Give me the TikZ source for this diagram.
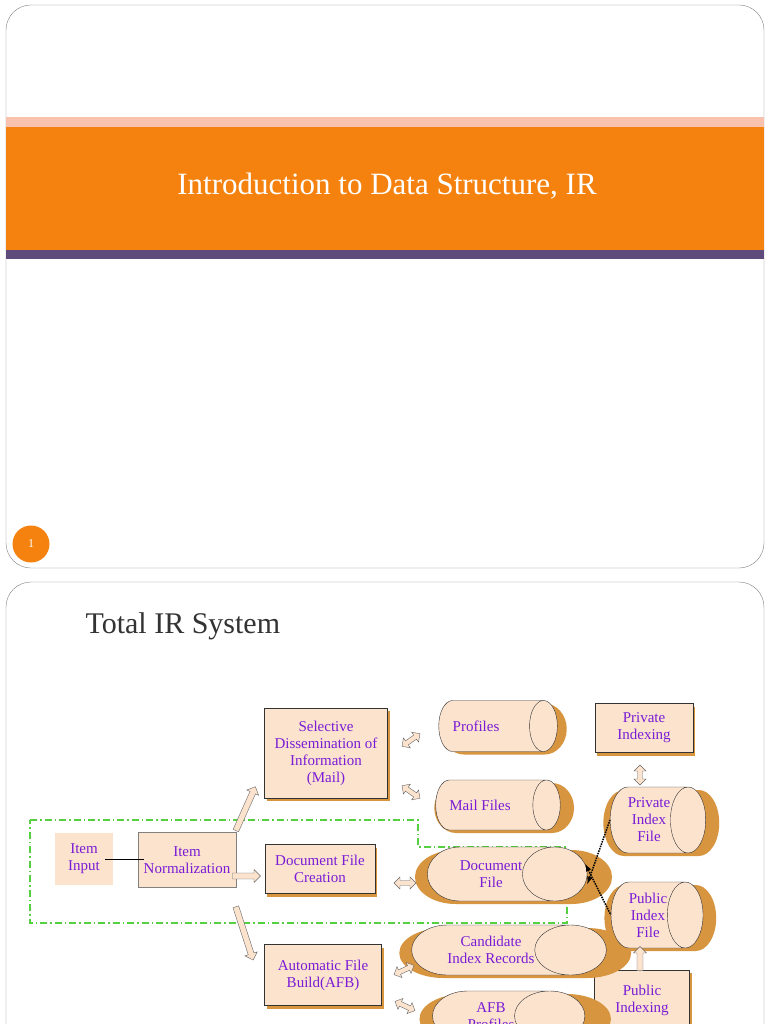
\documentclass[tikz,border=0pt]{standalone}
\usepackage{fontspec}
\setmainfont{Liberation Serif}
\usetikzlibrary{shapes.geometric,shapes.arrows,shadows}
\definecolor{peach}{HTML}{FCE3CE}
\definecolor{txt}{HTML}{7A1CD6}
\definecolor{shad}{HTML}{D8953F}
\definecolor{orng}{HTML}{F5820E}
\definecolor{pinkst}{HTML}{F8C2AE}
\definecolor{purp}{HTML}{5F4A7C}
\definecolor{grn}{HTML}{55D040}
\tikzset{
 lbl/.style={font=\fontsize{15}{17}\selectfont, text=txt, align=center},
 boxn/.style={lbl, draw=black!80, fill=peach, inner sep=1pt, drop shadow={shadow xshift=2pt, shadow yshift=-3pt, fill=shad, opacity=1}},
 cylbase/.style={cylinder, inner sep=0pt},
 cyl/.style={lbl, cylbase, draw=black!80, fill=peach},
 cylsh/.style={cylbase, fill=shad, draw=none}
}
\tikzset{
 barr/.style={single arrow, draw=black!60, fill=peach, minimum width=13pt, single arrow head extend=2pt, inner sep=1.5pt},
 darr/.style={double arrow, draw=black!60, fill=peach, minimum width=12pt, double arrow head extend=2pt, inner sep=1.2pt, minimum height=22pt}
}
\newcommand{\mycyl}[4]{% opts, name, pos, text
  \node[cylsh, #1] at ($#3+(2,3)$) {\phantom{\fontsize{15}{17}\selectfont\begin{tabular}{c}#4\end{tabular}}};
  \node[cyl, #1] (#2) at #3 {#4};}
\usetikzlibrary{calc}
\begin{document}
\begin{tikzpicture}[x=1pt,y=-1pt]
\useasboundingbox (0,0) rectangle (768,1024);
\fill[white] (0,0) rectangle (768,1024);
% slide 1
\draw[black!50, rounded corners=25pt] (6,5) rectangle (764,568);
\fill[pinkst] (6,117) rectangle (764,127);
\fill[orng] (6,127) rectangle (764,250);
\fill[purp] (6,250) rectangle (764,259);
\node[text=white, font=\fontsize{31}{34}\selectfont] (title) at (387,186) {Introduction to Data Structure, IR};
\node[circle, fill=orng, minimum size=37pt, text=white, font=\fontsize{12}{14}\selectfont] (pg) at (31,544) {1};
% slide 2
\draw[black!50, rounded corners=25pt] (6,582) -- (764,582) -- (764,1060) -- (6,1060) -- cycle;
\node[anchor=west, text=black!80, font=\fontsize{30}{33}\selectfont] (head) at (82,626) {Total IR System};
% green region
\draw[grn, line width=1.3pt, dash pattern=on 7pt off 3pt on 1.5pt off 3pt] (30,820) -- (418,820) -- (418,847) -- (567,847) -- (567,923) -- (30,923) -- cycle;
% boxes
\node[boxn, minimum width=123pt, minimum height=90pt] (sdi) at (326,753) {Selective\\Dissemination of\\Information\\(Mail)};
\node[lbl, fill=peach, minimum width=58pt, minimum height=52pt, inner sep=0pt] (in) at (84,859) {Item\\Input};
\node[lbl, draw=black!50, fill=peach, minimum width=98pt, minimum height=55pt, inner sep=0pt] (norm) at (187,860) {Item\\Normalization};
\node[boxn, minimum width=110pt, minimum height=49pt] (dfc) at (320,869) {Document File\\Creation};
\node[boxn, minimum width=117pt, minimum height=61pt] (afb) at (323,975) {Automatic File\\Build(AFB)};
\node[boxn, minimum width=98pt, minimum height=49pt] (pri) at (644,728) {Private\\Indexing};
\node[boxn, minimum width=95pt, minimum height=60pt, anchor=north] (pub) at (642,970) {Public\\Indexing};
% cylinders
\mycyl{shape aspect=2.6, minimum height=117pt, minimum width=51pt}{prof}{(491,726)}{Profiles\hspace{30pt}}
\mycyl{shape aspect=2.6, minimum height=117pt, minimum width=50pt}{mail}{(491,805)}{Mail Files\hspace{22pt}}
\mycyl{shape aspect=2.4, minimum height=117pt, minimum width=54pt}{doc}{(491,874)}{Document\\File\hspace{22pt}}
\mycyl{shape aspect=2.6, minimum height=117pt, minimum width=50pt}{cand}{(491,950)}{Candidate\\Index Records}
\mycyl{shape aspect=2.6, minimum height=117pt, minimum width=50pt}{afbp}{(491,1016)}{AFB\\Profiles\hspace{22pt}}
\mycyl{shape aspect=0.8, minimum height=85pt, minimum width=66pt}{privf}{(649,820)}{Private\\Index\\File\hspace{26pt}}
\mycyl{shape aspect=0.8, minimum height=83pt, minimum width=66pt}{pubf}{(648,915)}{Public\\Index\\File\hspace{26pt}}
\draw[line width=0.8pt] ([xshift=-8pt]in.east) -- ([xshift=6pt]norm.west |- in.east);
% block arrows
\node[barr, rotate=66, minimum height=48pt] (a1) at (245,810) {};
\node[barr, minimum height=28pt] (a2) at (245,876) {};
\node[barr, rotate=-72, minimum height=56pt] (a3) at (244,932) {};
\node[barr, rotate=90, minimum height=24pt] (a4) at (640,960) {};
\node[darr, rotate=35] (d1) at (411,740) {};
\node[darr, rotate=-35] (d2) at (411,792) {};
\node[darr] (d3) at (405,883) {};
\node[darr, rotate=25] (d4) at (404,970) {};
\node[darr, rotate=-25] (d5) at (405,1006) {};
\node[darr, rotate=90, minimum height=20pt] (d6) at (640,775) {};
% dotted
\draw[densely dotted, line width=1.5pt, <-, >=latex] ([yshift=-10pt]doc.east) -- (privf.west);
\draw[densely dotted, line width=1.5pt, <-, >=latex] ([xshift=-2pt,yshift=10pt]doc.east) -- (pubf.west);
\end{tikzpicture}
\end{document}
